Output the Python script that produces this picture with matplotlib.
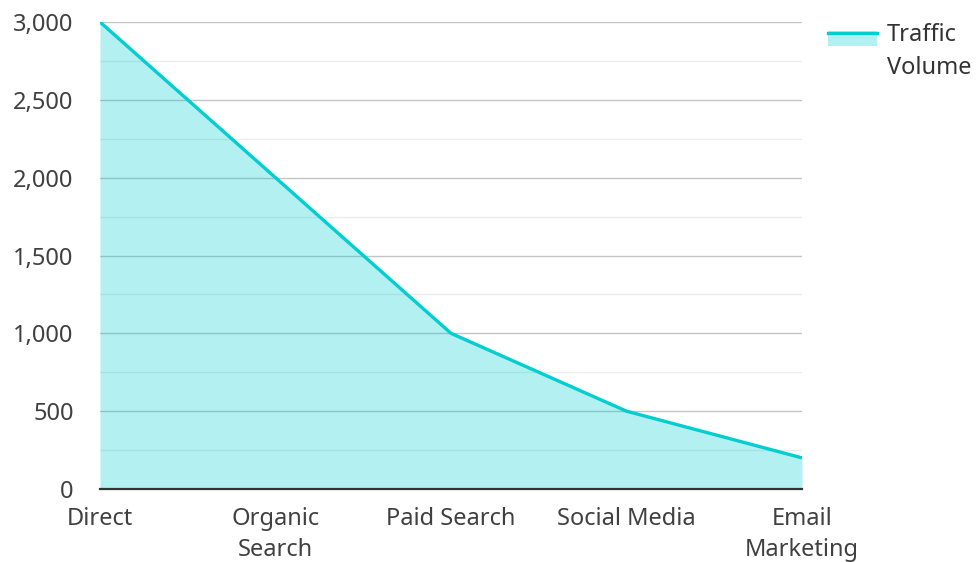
import matplotlib
matplotlib.use("Agg")
import matplotlib.pyplot as plt
from matplotlib.patches import Rectangle
from matplotlib.lines import Line2D
from matplotlib.ticker import FuncFormatter, MultipleLocator

plt.rcParams['font.family'] = ['Noto Sans', 'DejaVu Sans']

channels = ["Direct", "Organic\nSearch", "Paid Search", "Social Media", "Email\nMarketing"]
traffic = [3000, 2000, 1000, 500, 200]

line_color = "#00CED1"
fill_alpha = 0.3
text_color = "#404040"

W, H = 976, 562
fig = plt.figure(figsize=(W / 100, H / 100), dpi=100)
ax = fig.add_axes([100 / W, 1 - 489 / H, 702 / W, 467 / H])

x = list(range(len(channels)))
ax.fill_between(x, traffic, 0, color=line_color, alpha=fill_alpha, linewidth=0, zorder=3)
ax.plot(x, traffic, color=line_color, linewidth=2.4, zorder=4, solid_capstyle="butt")

ax.set_xlim(0, len(channels) - 1)
ax.set_ylim(0, 3000)
ax.yaxis.set_major_locator(MultipleLocator(500))
ax.yaxis.set_minor_locator(MultipleLocator(250))
ax.yaxis.set_major_formatter(FuncFormatter(lambda v, p: f"{int(v):,}"))
ax.set_axisbelow(True)
ax.grid(axis="y", which="major", color="#c4c4c4", linewidth=1)
ax.grid(axis="y", which="minor", color="#ebebeb", linewidth=1)
ax.grid(axis="x", visible=False)

ax.set_xticks(x)
ax.set_xticklabels(channels, linespacing=1.4)
ax.tick_params(axis="both", which="both", length=0, labelsize=17, labelcolor=text_color)
ax.tick_params(axis="x", pad=13)
ax.tick_params(axis="y", pad=19)

for s in ["top", "right", "left"]:
    ax.spines[s].set_visible(False)
ax.spines["bottom"].set_color("#333333")
ax.spines["bottom"].set_linewidth(1.6)
ax.spines["bottom"].set_zorder(5)

# legend
fig.patches.append(Rectangle((828 / W, 1 - 45.5 / H), 49 / W, 14 / H,
                             transform=fig.transFigure, color=line_color,
                             alpha=fill_alpha, lw=0))
fig.lines.append(Line2D([828 / W, 877 / W], [1 - 33 / H, 1 - 33 / H],
                        transform=fig.transFigure, color=line_color, lw=2.4))
fig.text(887 / W, 1 - 23 / H, "Traffic\nVolume", fontsize=17, color="#333333",
         va="top", ha="left", linespacing=1.5)

fig.savefig("out.png", dpi=100)
